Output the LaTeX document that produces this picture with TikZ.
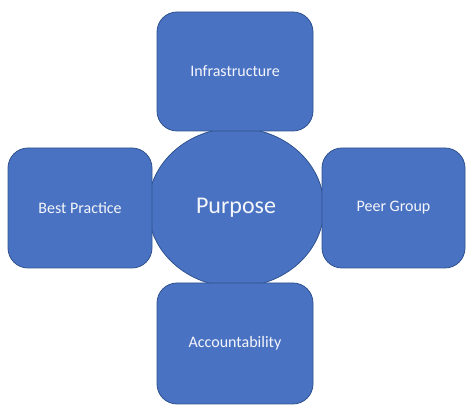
\documentclass[tikz,border=0pt]{standalone}
\usepackage{fontspec}
\setmainfont{Carlito}
\usetikzlibrary{shapes.geometric}
\definecolor{boxfill}{HTML}{4A72C2}
\definecolor{boxline}{HTML}{2F528F}
\definecolor{txt}{HTML}{F4F6FB}
\begin{document}
\begin{tikzpicture}[x=1pt,y=1pt,
  box/.style={draw=boxline, line width=0.8pt, fill=boxfill, rounded corners=20pt,
    rectangle, text=txt, font=\fontsize{16}{19}\selectfont, inner sep=0pt},
  hub/.style={ellipse, draw=boxline, line width=0.8pt, fill=boxfill, text=txt,
    font=\fontsize{24}{28}\selectfont, inner sep=0pt}]
\useasboundingbox (0,0) rectangle (474,417);
\node[hub, minimum width=176pt, minimum height=159pt] (purpose) at (236,209.5) {Purpose};
\node[box, minimum width=156pt, minimum height=119pt] (infra) at (235,345.5) {Infrastructure};
\node[box, minimum width=144pt, minimum height=120pt] (best) at (80,209) {Best Practice};
\node[box, minimum width=143pt, minimum height=120pt] (peer) at (393.5,209) {Peer Group};
\node[box, minimum width=156pt, minimum height=121pt] (acc) at (235,73.5) {Accountability};
\end{tikzpicture}
\end{document}
